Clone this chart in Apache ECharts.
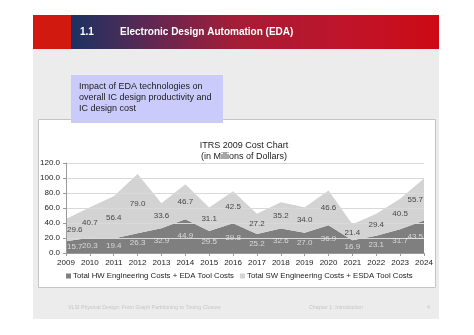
<!DOCTYPE html>
<html>
<head>
<meta charset="utf-8">
<script src="https://cdn.jsdelivr.net/npm/echarts@6/dist/echarts.min.js"></script>
<style>
  html, body { margin: 0; padding: 0; background: #ffffff; }
  #main { width: 474px; height: 335px; }
</style>
</head>
<body>
<div id="main"></div>
<script>
// ITRS 2009 design cost projection (millions of dollars)
const years = ['2009','2010','2011','2012','2013','2014','2015','2016','2017','2018','2019','2020','2021','2022','2023','2024'];
const hwCost = [15.7, 20.3, 19.4, 26.3, 32.9, 44.9, 29.5, 39.8, 25.2, 32.6, 27.0, 36.9, 16.9, 23.1, 31.7, 43.5];
const swCost = [29.6, 40.7, 56.4, 79.0, 33.6, 46.7, 31.1, 42.5, 27.2, 35.2, 34.0, 46.6, 21.4, 29.4, 40.5, 55.7];
const hwName = 'Total HW Engineering Costs + EDA Tool Costs';
const swName = 'Total SW Engineering Costs + ESDA Tool Costs';

const FONT = '"Liberation Sans", Arial, sans-serif';
const chart = echarts.init(document.getElementById('main'), null, { renderer: 'canvas' });

// value labels sit in the middle of each stacked band
function bandLabels(values, base) {
  const last = values.length - 1;
  return values.map((v, i) => {
    const item = { value: [years[i], base[i] + v / 2], raw: v };
    if (i === 0) item.label = { align: 'left', offset: [1, 0] };
    if (i === last) item.label = { align: 'right', offset: [-1, 0] };
    return item;
  });
}
const zeros = hwCost.map(() => 0);

chart.setOption({
  animation: false,
  textStyle: { fontFamily: FONT },
  graphic: [
    // slide body
    { type: 'rect', shape: { x: 33, y: 49, width: 406, height: 270 }, style: { fill: '#ececec' }, silent: true },
    // header bar
    { type: 'rect', shape: { x: 33, y: 15, width: 38, height: 34 }, style: { fill: '#d2190f' }, silent: true },
    { type: 'rect', shape: { x: 71, y: 15, width: 368, height: 34 },
      style: { fill: new echarts.graphic.LinearGradient(0, 0, 1, 0, [
        { offset: 0, color: '#1b3262' },
        { offset: 0.25, color: '#6a2650' },
        { offset: 0.45, color: '#a41d36' },
        { offset: 0.75, color: '#c0142a' },
        { offset: 1, color: '#cc0a14' }
      ]) }, silent: true },
    { type: 'text', x: 80, y: 32, style: { text: '1.1', fill: '#ffffff', font: 'bold 10px ' + FONT, verticalAlign: 'middle' } },
    { type: 'text', x: 120, y: 32, style: { text: 'Electronic Design Automation (EDA)', fill: '#ffffff', font: 'bold 10px ' + FONT, verticalAlign: 'middle' } },
    // chart panel
    { type: 'rect', shape: { x: 38.5, y: 119.5, width: 397, height: 168 }, style: { fill: '#ffffff', stroke: '#c4c4c4', lineWidth: 1 }, silent: true, z: 1 },
    // callout box
    { type: 'rect', shape: { x: 71, y: 75, width: 152, height: 48 }, style: { fill: '#cbcbfb' }, silent: true, z: 2 },
    { type: 'text', x: 79, y: 81, z: 3, style: { text: 'Impact of EDA technologies on\noverall IC design productivity and\nIC design cost', fill: '#1a1a1a', font: '9px ' + FONT, lineHeight: 11 } },
    // chart title
    { type: 'text', x: 244, y: 146, z: 3, style: { text: 'ITRS 2009 Cost Chart', fill: '#1a1a1a', font: '9px ' + FONT, align: 'center', verticalAlign: 'middle' } },
    { type: 'text', x: 244, y: 157, z: 3, style: { text: '(in Millions of Dollars)', fill: '#1a1a1a', font: '9px ' + FONT, align: 'center', verticalAlign: 'middle' } },
    // footer
    { type: 'text', x: 68, y: 308, style: { text: 'VLSI Physical Design: From Graph Partitioning to Timing Closure', fill: '#c6c6c6', font: '5.3px ' + FONT, verticalAlign: 'middle' } },
    { type: 'text', x: 309, y: 308, style: { text: 'Chapter 1: Introduction', fill: '#c6c6c6', font: '5.3px ' + FONT, verticalAlign: 'middle' } },
    { type: 'text', x: 427, y: 308, style: { text: '4', fill: '#c6c6c6', font: '5.3px ' + FONT, verticalAlign: 'middle' } }
  ],
  grid: { left: 66, right: 50, top: 163, bottom: 82, containLabel: false, z: 5 },
  legend: {
    data: [hwName, swName],
    left: 66, top: 272, padding: 0,
    icon: 'rect', itemWidth: 5, itemHeight: 5, itemGap: 6,
    textStyle: { fontSize: 7.8, color: '#222222', fontFamily: FONT, padding: [0, 0, 0, -3] },
    z: 5
  },
  xAxis: {
    type: 'category', data: years, boundaryGap: false, z: 6,
    axisLine: { lineStyle: { color: '#9a9a9a' } },
    axisTick: { show: true, length: 3, lineStyle: { color: '#9a9a9a' } },
    axisLabel: { fontSize: 8, color: '#222222', margin: 6, fontFamily: FONT }
  },
  yAxis: {
    type: 'value', min: 0, max: 120, interval: 20, z: 6,
    axisLine: { show: true, lineStyle: { color: '#9a9a9a' } },
    axisTick: { show: true, length: 3, lineStyle: { color: '#9a9a9a' } },
    axisLabel: { fontSize: 8, color: '#222222', margin: 6, fontFamily: FONT, formatter: v => v.toFixed(1) },
    splitLine: { lineStyle: { color: '#d9d9d9' } }
  },
  series: [
    { name: hwName, type: 'line', stack: 'cost', data: hwCost, symbol: 'none', z: 5,
      lineStyle: { width: 0 }, areaStyle: { color: '#7f7f7f', opacity: 1 }, itemStyle: { color: '#7f7f7f' } },
    { name: swName, type: 'line', stack: 'cost', data: swCost, symbol: 'none', z: 5,
      lineStyle: { width: 0 }, areaStyle: { color: '#d3d3d3', opacity: 1 }, itemStyle: { color: '#d3d3d3' } },
    { name: 'hwLabels', type: 'scatter', symbolSize: 0, z: 7, silent: true,
      data: bandLabels(hwCost, zeros),
      label: { show: true, position: 'inside', fontSize: 8, color: '#ececec', fontFamily: FONT,
        formatter: p => p.data.raw.toFixed(1) } },
    { name: 'swLabels', type: 'scatter', symbolSize: 0, z: 7, silent: true,
      data: bandLabels(swCost, hwCost),
      label: { show: true, position: 'inside', fontSize: 8, color: '#222222', fontFamily: FONT,
        formatter: p => p.data.raw.toFixed(1) } }
  ]
});
</script>
</body>
</html>
